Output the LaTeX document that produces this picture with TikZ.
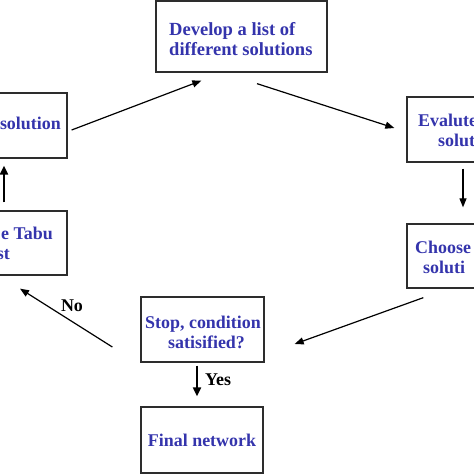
\documentclass[tikz,border=0pt]{standalone}
\usepackage{fontspec}
\setmainfont{Liberation Serif}
\usetikzlibrary{arrows.meta,calc}
\definecolor{txtblue}{RGB}{52,52,172}
\definecolor{boxline}{RGB}{45,45,45}
\begin{document}
\begin{tikzpicture}[x=1bp,y=-1bp,
  box/.style={draw=boxline,line width=1.3bp,inner sep=0pt,minimum width=#1,align=center,
    font=\fontsize{18}{20}\selectfont\bfseries,text=txtblue},
  frag/.style={inner sep=0pt,font=\fontsize{18}{20}\selectfont\bfseries,text=txtblue},
  arr/.style={line width=1.2bp,-{Triangle[length=9bp,width=7bp]}},
  thickarr/.style={line width=2bp,-{Triangle[length=9bp,width=8bp]}},
  lbl/.style={inner sep=0pt,font=\fontsize{18}{20}\selectfont\bfseries}]
\useasboundingbox (0,0) rectangle (474,474);
\clip (0,0) rectangle (474,474);
% boxes
\node[box=171bp,minimum height=71bp] (dev) at (241.5,36.5) {};
\node[frag,align=left,font=\fontsize{18.6}{20}\selectfont\bfseries,anchor=north west] (devtext) at (169,22) {Develop a list of\\different solutions};
\node[box=123bp,minimum height=65bp] (init) at (5.5,125.5) {};
\node[box=123bp,minimum height=64bp] (tabu) at (5.5,243) {};
\node[box=123bp,minimum height=65bp] (eval) at (468.5,129.5) {};
\node[box=123bp,minimum height=64bp] (choose) at (468.5,256) {};
\node[box=123bp,minimum height=65bp] (stop) at (202.5,329.5) {};
\node[frag,anchor=base west] (stop1) at (145,328) {Stop, condition};
\node[frag,anchor=base west] (stop2) at (168,348) {satisified?};
\node[box=122bp,minimum height=66bp] (final) at (202,440) {Final network};
% visible text fragments of the cut boxes
\node[frag,anchor=base east] (t1) at (61,130) {solution};
\node[frag,anchor=base east] (t2) at (53,239) {e Tabu};
\node[frag,anchor=base east] (t3) at (10,259) {st};
\node[frag,anchor=base west] (t4) at (418,127) {Evalute};
\node[frag,anchor=base west] (t5) at (438,147) {solut};
\node[frag,anchor=base west] (t6) at (415,253) {Choose};
\node[frag,anchor=base west] (t7) at (423,273) {soluti};
% connectors
\draw[arr] ($(init.east)+(4,4.5)$) -- ($(dev.south west)+(46,8)$);
\draw[arr] ($(dev.south)+(15.5,11)$) -- ($(eval.west)+(-12,-1.5)$);
\draw[arr] ($(eval.south)+(-5.5,6)$) -- ($(choose.north)+(-5.5,-16)$);
\draw[arr] ($(choose.south west)+(17,9)$) -- ($(stop.east)+(30,14.5)$);
\draw[arr] ($(stop.west)+(-28,17.5)$) -- ($(tabu.south)+(14.5,13)$);
\draw[thickarr] ($(tabu.north)+(-1.5,-8)$) -- ($(init.south)+(-1.5,7)$);
\draw[thickarr] ($(stop.south)+(-5.5,3)$) -- ($(final.north)+(-5,-10)$);
% labels
\node[lbl] (no) at (72,306) {No};
\node[lbl,anchor=west] (yes) at (205,380) {Yes};
\end{tikzpicture}
\end{document}
